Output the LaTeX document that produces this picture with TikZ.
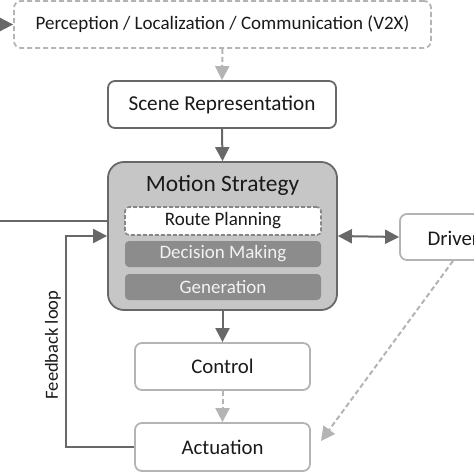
\documentclass[tikz,border=0pt]{standalone}
\usepackage{fontspec}
\setmainfont{Carlito}
\usetikzlibrary{arrows.meta}
\definecolor{dk}{HTML}{686868}
\definecolor{lt}{HTML}{B4B4B4}
\definecolor{msfill}{HTML}{C6C6C6}
\definecolor{inner}{HTML}{8C8C8C}
\definecolor{innertext}{HTML}{F2F2F2}
\definecolor{txt}{HTML}{1A1A1A}
\begin{document}
\begin{tikzpicture}[x=1pt,y=-1pt,
  box/.style={draw, rounded corners=7pt, line width=1.8pt, fill=white, inner sep=0pt, text=txt},
  darkbox/.style={box, draw=dk},
  lightbox/.style={box, draw=lt},
  dashbox/.style={box, draw=lt, dashed, dash pattern=on 5pt off 3pt},
  innerbox/.style={draw=none, fill=inner, rounded corners=4pt, minimum width=196pt, inner sep=0pt, text=innertext, font=\fontsize{19}{22}\selectfont},
  tipshape/.style={-{Triangle[length=14pt,width=14pt]}},
  dkarrow/.style={draw=dk, line width=2pt, tipshape},
  ltarrow/.style={draw=lt, line width=2pt, dashed, dash pattern=on 5pt off 3pt, tipshape},
]
\useasboundingbox (0,0) rectangle (474,474);
\clip (0,0) rectangle (474,474);
\fill[white] (0,0) rectangle (474,474);

\node[dashbox, minimum width=417pt, minimum height=47pt] (perc) at (222.5,24.5) {};
\node[text=txt, font=\fontsize{19}{22}\selectfont] (perctext) at (222.5,24.5) {Perception / Localization / Communication (V2X)};
\node[darkbox, minimum width=228pt, minimum height=47pt, font=\fontsize{21.2}{24}\selectfont] (scene) at (222,104.5) {Scene Representation};
\node[darkbox, fill=msfill, rounded corners=16pt, minimum width=229pt, minimum height=148pt] (ms) at (222.5,236) {};
\node[font=\fontsize{23.4}{26}\selectfont, text=txt] (mstitle) at (222.5,185) {Motion Strategy};
\node[draw=dk!80, dashed, dash pattern=on 4pt off 2pt, line width=1.6pt, fill=white, rounded corners=4pt, minimum width=196pt, minimum height=28pt, inner sep=0pt, text=txt, font=\fontsize{19}{22}\selectfont] (route) at (223,221) {Route Planning};
\node[innerbox, minimum height=26pt] (dec) at (223,254) {Decision Making};
\node[innerbox, minimum height=26pt] (gen) at (223,287) {Generation};
\node[lightbox, minimum width=110pt, minimum height=46pt] (driver) at (455,237) {};
\node[anchor=west, text=txt, font=\fontsize{20.8}{24}\selectfont] (drivertext) at (424,238) {Driver};
\node[lightbox, minimum width=175pt, minimum height=47pt, font=\fontsize{20.8}{24}\selectfont] (control) at (222.5,366.5) {Control};
\node[lightbox, minimum width=175pt, minimum height=48pt, font=\fontsize{20.8}{24}\selectfont] (act) at (222.5,447) {Actuation};
\node[rotate=90, text=txt, font=\fontsize{18.5}{20}\selectfont] (fblabel) at (53,345) {Feedback loop};

\coordinate (lft) at (-6,221);
\coordinate (fb) at (66,447);
\coordinate (tip) at (321,441);

\draw[ltarrow] (perc.south) -- (scene.north);
\draw[dkarrow] (scene.south) -- (ms.north);
\draw[dkarrow] (ms.south) -- (control.north);
\draw[ltarrow] (control.south) -- (act.north);
\draw[draw=dk, line width=2pt, {Triangle[length=14pt,width=14pt]}-{Triangle[length=14pt,width=14pt]}] (ms.east) -- (driver.west);
\draw[ltarrow] ([xshift=-2pt]driver.south) -- (tip);
\draw[dkarrow] (act.west) -- (fb) |- (ms.west);
\draw[dkarrow] (ms.west |- route.west) -- (lft) |- (perc.west);
\end{tikzpicture}
\end{document}
